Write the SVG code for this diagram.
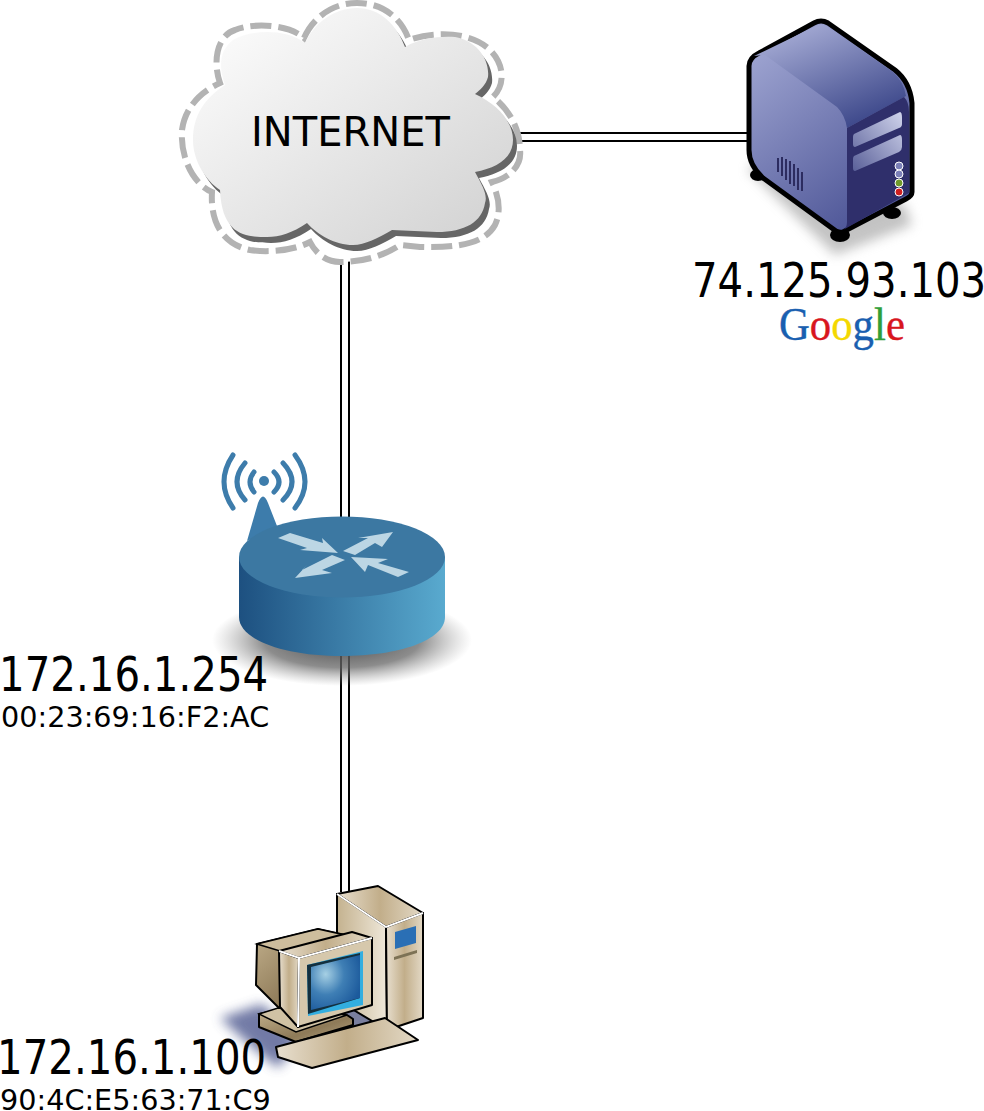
<svg xmlns="http://www.w3.org/2000/svg" width="984" height="1111" viewBox="0 0 984 1111">
<style>
text{font-family:"DejaVu Sans",sans-serif;fill:#000}
.ip{font-size:48px}
.mac{font-size:28.7px}
.wire-o{stroke:#000;stroke-width:10;fill:none}
.wire-i{stroke:#fff;stroke-width:6;fill:none}
.k{stroke:#000;stroke-width:2;stroke-linejoin:round}
.arc{fill:none;stroke:#3d7cab;stroke-width:5;stroke-linecap:round}
</style>
<defs>
<linearGradient id="cg" x1="0" y1="0" x2="1" y2="1"><stop offset="0" stop-color="#fff"/><stop offset="1" stop-color="#d0d0d0"/></linearGradient>
<linearGradient id="rs" x1="0" x2="1" y1="0" y2="0"><stop offset="0" stop-color="#1d5080"/><stop offset="1" stop-color="#59aacf"/></linearGradient>
<radialGradient id="rsh"><stop offset="0" stop-color="#444"/><stop offset=".6" stop-color="#666" stop-opacity=".75"/><stop offset="1" stop-color="#999" stop-opacity="0"/></radialGradient>
<linearGradient id="sv" x1="0" y1="0" x2=".6" y2="1"><stop offset="0" stop-color="#a8aed8"/><stop offset="1" stop-color="#4f5798"/></linearGradient>
<linearGradient id="st" x1="0" y1="0" x2=".6" y2="1"><stop offset="0" stop-color="#b4b9df"/><stop offset="1" stop-color="#3f4a8c"/></linearGradient>
<linearGradient id="sl" x1="0" y1="1" x2="1" y2="0"><stop offset="0" stop-color="#5a6099"/><stop offset="1" stop-color="#d0d4ec"/></linearGradient>
<linearGradient id="t1" x1="0" x2="1" y1="0" y2="0"><stop offset="0" stop-color="#e8dfcf"/><stop offset=".5" stop-color="#c2ae8a"/><stop offset="1" stop-color="#e3d9c6"/></linearGradient>
<linearGradient id="t2" x1="0" x2="1" y1="0" y2="0"><stop offset="0" stop-color="#c4b28f"/><stop offset="1" stop-color="#efe8da"/></linearGradient>
<linearGradient id="t3" x1="0" x2="1" y1="0" y2="1"><stop offset="0" stop-color="#c2b08c"/><stop offset=".6" stop-color="#8e7a58"/><stop offset="1" stop-color="#b5a482"/></linearGradient>
<radialGradient id="scr" cx=".3" cy=".35" r=".75"><stop offset="0" stop-color="#a6d0e4"/><stop offset=".5" stop-color="#3f7fb5"/><stop offset="1" stop-color="#1c5a9c"/></radialGradient>
<filter id="b6" x="-30%" y="-30%" width="160%" height="160%"><feGaussianBlur stdDeviation="6"/></filter>
<path id="cloud" d="M305 43C315 22 335 8 357 8C380 8 397 25 405 47C420 38 440 36 455 37C475 40 490 58 488 77C486 85 480 90 475 94C495 103 513 120 513 140C513 158 497 168 475 172C482 185 488 195 485 203C482 222 465 232 437 232L392 230C378 238 365 245 353 245C335 245 318 235 307 223C292 233 280 237 267 237C245 237 222 235 220 190C205 180 193 160 193 140C193 115 205 98 225 85C218 65 220 50 233 40C250 30 285 28 305 43Z"/>
</defs>
<g id="connectors">
<path class="wire-o" d="M345 260V520M345 650V892M505 137H752"/>
<path class="wire-i" d="M345 258V520M345 650V894M503 137H754"/>
</g>
<g id="cloud-node">
<path d="M304 38C312 20 330 3 357 3C385 3 402 20 409 40C430 32 470 30 490 50C505 65 505 85 493 97C510 110 520 130 520 150C522 165 510 178 492 182C498 195 502 210 495 225C485 243 460 248 420 247L400 245C385 255 365 262 340 262C325 262 315 252 310 242C295 250 270 253 250 250C225 245 210 225 212 192C195 185 180 160 182 130C185 108 200 92 220 83C212 60 218 35 235 30C255 22 290 25 304 38Z" fill="#fff" stroke="#b3b3b3" stroke-width="6" stroke-dasharray="21 7"/>
<use href="#cloud" x="4" y="6" fill="#666"/>
<use href="#cloud" fill="url(#cg)"/>
<text x="350.500" y="146" font-size="40" text-anchor="middle">INTERNET</text>
</g>
<g id="server-node">
<path d="M748 170L835 255L912 225L905 205L770 150Z" fill="#888" opacity=".5" filter="url(#b6)"/>
<ellipse cx="840" cy="235" rx="10" ry="7" fill="#000"/>
<ellipse cx="892" cy="213" rx="9" ry="6" fill="#000"/>
<ellipse cx="758" cy="175" rx="8" ry="6" fill="#000"/>
<path d="M759 53L814 23Q821 19 828 23L895 70Q910 82 912 103V192Q912 196 906 199L843 232Q840 233 836 231L763 178Q749 165 749 150V66Q749 58 759 53Z" fill="url(#sv)" stroke="#000" stroke-width="5"/>
<path d="M754 56L816 26Q822 23 828 27L893 72Q904 82 906 96L847 128Q845 115 837 107L765 55Z" fill="url(#st)"/>
<path d="M847 128L904 97Q909 102 909 112V193L843 230Q847 228 847 222Z" fill="#2f2f6b"/>
<path d="M854 134L900 112Q902 112 902 118V124Q902 127 899 128L855 147Q853 147 853 144V137Q853 135 854 134ZM854 156L900 135Q902 135 902 140V147Q902 150 899 152L855 171Q853 171 853 168V159Q853 157 854 156Z" fill="url(#sl)"/>
<g fill="none" stroke="#2c2c60" stroke-width="2"><path d="M778 158V172M782 157V176M786 159V180M790 161V184M794 164V186M798 168V190M802 172V191"/></g>
<g stroke="#fff" stroke-width="1"><ellipse cx="899" cy="166" rx="4" ry="4" fill="#7b80b8"/><ellipse cx="899" cy="174" rx="4" ry="4" fill="#7b80b8"/><ellipse cx="899" cy="183" rx="4" ry="4" fill="#6f9a2a"/><ellipse cx="899" cy="192" rx="4" ry="4" fill="#d01f1f"/></g>
<text class="ip" transform="translate(692 297) scale(.838 1)">74.125.93.103</text>
<text transform="translate(779 340) scale(.9 1)" font-size="47.500" stroke-width=".4" style="font-family:'Liberation Serif',serif"><tspan fill="#1a5fb0" stroke="#1a5fb0">G</tspan><tspan fill="#d8161e" stroke="#d8161e">o</tspan><tspan fill="#f4d800" stroke="#f4d800">o</tspan><tspan fill="#1a5fb0" stroke="#1a5fb0">g</tspan><tspan fill="#2f9e3a" stroke="#2f9e3a">l</tspan><tspan fill="#d8161e" stroke="#d8161e">e</tspan></text>
</g>
<g id="router-node">
<ellipse cx="342" cy="640" rx="130" ry="46" fill="url(#rsh)"/>
<path d="M239 557V617C239 640 285 656 342 656C399 656 445 640 445 617V557Z" fill="url(#rs)"/>
<path d="M247 541L258 503Q263 490 268 503L277 526Z" fill="#3d7cab"/>
<ellipse cx="342" cy="557" rx="103" ry="40.500" fill="#3c78a2"/>
<circle cx="264" cy="481" r="5" fill="#3d7cab"/>
<path class="arc" d="M254 472Q246 482 254 492M274 472Q284 482 274 492M245 463Q229 482 245 500M283 463Q301 482 283 500M233 455Q215 482 233 508M295 455Q315 482 295 508"/>
<g fill="#bcd6e4">
<path d="M278 538L290 533L323 543L322 538L338 553L300 550L307 548Z"/>
<path d="M343 551L368 538L358 538L393 532L382 547L375 543L355 555Z"/>
<path d="M345 560L332 555L302 570L307 565L295 578L332 573L322 570Z"/>
<path d="M351 557L388 559L378 563L409 572L398 577L368 565L365 572Z"/>
</g>
<text class="ip" transform="translate(-1 691) scale(.84 1)">172.16.1.254</text>
<text class="mac" x="1" y="727">00:23:69:16:F2:AC</text>
</g>
<g id="pc-node">
<path d="M220 1018L262 1004L300 1040L278 1068L250 1045Z" fill="#4f5a90" opacity=".8" filter="url(#b6)"/>
<path d="M345 1010L360 1005L385 1020L340 1032Z" fill="#7a7f9e"/>
<path class="k" d="M337 894L378 886L423 913L386 927Z" fill="url(#t1)"/>
<path class="k" d="M337 894L386 927L387 1030L337 1000Z" fill="url(#t2)"/>
<path class="k" d="M386 927L423 913V1018L387 1030Z" fill="url(#t1)"/>
<path d="M337 894L386 927L423 913" fill="none" stroke="#fff" stroke-width="2"/>
<path d="M395 932L416 926V943L395 949Z" fill="#2a6fb5"/>
<path d="M394 957L417 950V953L394 960Z" fill="#7d7255"/>
<path class="k" d="M259 1014L278 1010L347 1015L353 1019V1025L296 1042L259 1027Z" fill="url(#t3)"/>
<path d="M259 1014L278 1008L347 1015L296 1032Z" fill="#d0c2a4" stroke="#000" stroke-width="1.500"/>
<path class="k" d="M257 944L318 929L345 935L300 1010L278 1007L256 985Z" fill="url(#t3)"/>
<path d="M257 944L318 929L345 935L280 951Z" fill="#cdbd9d" stroke="#000" stroke-width="1.500"/>
<path class="k" d="M279 951L299 958L298 1027L280 1007Z" fill="url(#t1)"/>
<path class="k" d="M279 951L352 932L372 938L299 958Z" fill="url(#t1)"/>
<path class="k" d="M299 958L372 938V1005L298 1027Z" fill="#d6c8ac"/>
<path d="M279 951L299 958L372 938M299 958L298 1027" fill="none" stroke="#fff" stroke-width="2"/>
<path d="M307 965L363 951V1005L308 1016Z" fill="#33aee0"/>
<path d="M307 965L360 953V998L308 1014Z" fill="#13303f"/>
<path d="M311 967L360 955V998L311 1010Z" fill="url(#scr)"/>
<path class="k" d="M276 1047L385 1018L418 1040L312 1068L278 1057Z" fill="url(#t1)"/>
<text class="ip" transform="translate(-3 1074) scale(.84 1)">172.16.1.100</text>
<text class="mac" x="0" y="1110">90:4C:E5:63:71:C9</text>
</g>
</svg>
